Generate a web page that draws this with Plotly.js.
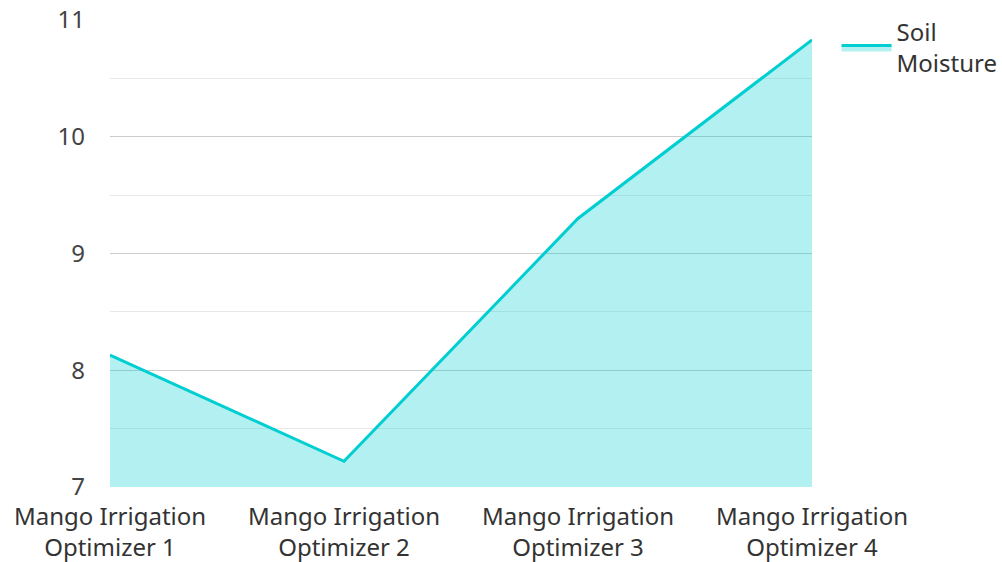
<!DOCTYPE html>
<html>
<head>
<meta charset="utf-8">
<script src="https://cdn.plot.ly/plotly-3.0.1.min.js"></script>
<style>html,body{margin:0;padding:0;background:#fff;}#chart{width:1002px;height:562px;}</style>
</head>
<body>
<div id="chart"></div>
<script>
var categories = ["Mango Irrigation<br>Optimizer 1", "Mango Irrigation<br>Optimizer 2", "Mango Irrigation<br>Optimizer 3", "Mango Irrigation<br>Optimizer 4"];
var soilMoisture = [8.13, 7.22, 9.3, 10.83];
var seriesName = "Soil<br>Moisture";
var yTicks = [7, 8, 9, 10, 11];

var trace = {
  x: categories,
  y: soilMoisture,
  type: "scatter",
  mode: "lines",
  name: seriesName,
  fill: "tozeroy",
  fillcolor: "rgba(0,206,209,0.3)",
  line: {color: "#00CED1", width: 3}
};

var layout = {
  width: 1002,
  height: 562,
  margin: {l: 110, r: 190, t: 20, b: 75, autoexpand: false},
  paper_bgcolor: "#fff",
  plot_bgcolor: "#fff",
  font: {family: "Noto Sans, sans-serif", size: 24, color: "#333"},
  showlegend: true,
  legend: {x: 1.035, y: 1.022, xanchor: "left", yanchor: "top", itemwidth: 50, font: {size: 24, color: "#333"}},
  xaxis: {
    type: "category",
    range: [0, 3],
    automargin: false,
    showgrid: false,
    zeroline: false,
    showline: false,
    ticks: "",
    ticklabelstandoff: 13,
    tickfont: {size: 24, color: "#333"}
  },
  yaxis: {
    range: [7, 11],
    automargin: false,
    tickvals: yTicks,
    ticktext: yTicks.map(String),
    gridcolor: "#cccccc",
    gridwidth: 1,
    zeroline: false,
    showline: false,
    ticks: "",
    ticklabelstandoff: 24,
    tickfont: {size: 24, color: "#444"},
    minor: {dtick: 0.5, showgrid: true, gridcolor: "#e8e8e8", gridwidth: 1}
  }
};

Plotly.newPlot("chart", [trace], layout, {displayModeBar: false, staticPlot: true});
</script>
</body>
</html>
